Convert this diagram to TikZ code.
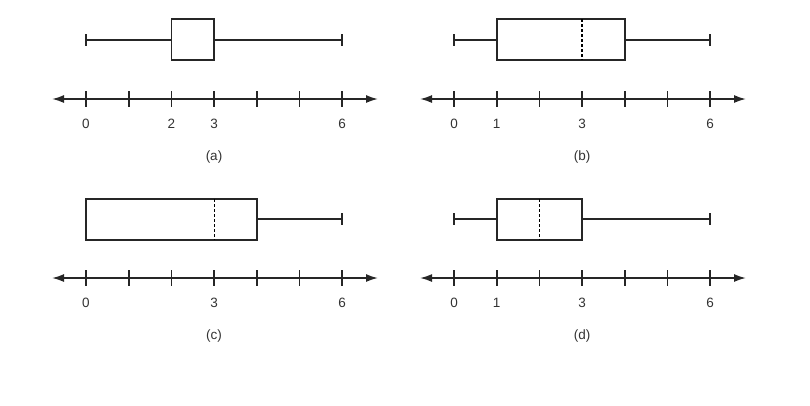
\documentclass[tikz,border=0pt]{standalone}
\usepackage{fontspec}
\setmainfont{Liberation Sans}
\usetikzlibrary{arrows.meta}
\tikzset{ln/.style={line width=1.7pt,draw=black!85},
  axisline/.style={ln,{Latex[length=12pt,width=8pt]}-{Latex[length=12pt,width=8pt]}},
  bx/.style={ln,fill=white},
  med/.style={line width=1.2pt,dashed,dash pattern=on 3pt off 2pt},
  num/.style={font=\fontsize{13.5pt}{15pt}\selectfont,text=black!80},
  paneltitle/.style={font=\fontsize{13.5pt}{15pt}\selectfont,text=black!80}}
\begin{document}
\begin{tikzpicture}[x=1pt,y=-1pt]
\useasboundingbox (0,0) rectangle (810,405);
% panel a
\coordinate (aL) at (52,99); \coordinate (aR) at (378,99);
\draw[axisline] (aL) -- (aR);
\foreach \i in {0,...,6} \draw[ln] (86+42.7*\i,91) -- (86+42.7*\i,107);
\foreach \i/\t in {0/0,2/2,3/3,6/6} \node[num] (an\i) at (86+42.7*\i,124) {\t};
\draw[ln] (86,34) -- (86,46); \draw[ln] (342,34) -- (342,46);
\draw[ln] (86,40) -- (342,40);
\draw[bx] (171.4,19) rectangle (214.1,60);
\node[paneltitle] (ca) at (214,157) {(a)};
% panel b
\draw[axisline] (420,99) -- (746,99);
\foreach \i in {0,...,6} \draw[ln] (454+42.7*\i,91) -- (454+42.7*\i,107);
\foreach \i/\t in {0/0,1/1,3/3,6/6} \node[num] (bn\i) at (454+42.7*\i,124) {\t};
\draw[ln] (454,34) -- (454,46); \draw[ln] (710,34) -- (710,46);
\draw[ln] (454,40) -- (710,40);
\draw[bx] (496.7,19) rectangle (624.8,60);
\draw[med] (582,19) -- (582,60);
\node[paneltitle] (cb) at (582,157) {(b)};
% panel c
\draw[axisline] (52,278) -- (378,278);
\foreach \i in {0,...,6} \draw[ln] (86+42.7*\i,270) -- (86+42.7*\i,286);
\foreach \i/\t in {0/0,3/3,6/6} \node[num] (cn\i) at (86+42.7*\i,303) {\t};
\draw[ln] (342,213) -- (342,225);
\draw[ln] (256.8,219) -- (342,219);
\draw[bx] (86,199) rectangle (256.8,240);
\draw[med] (214.1,199) -- (214.1,240);
\node[paneltitle] (cc) at (214,336) {(c)};
% panel d
\draw[axisline] (420,278) -- (746,278);
\foreach \i in {0,...,6} \draw[ln] (454+42.7*\i,270) -- (454+42.7*\i,286);
\foreach \i/\t in {0/0,1/1,3/3,6/6} \node[num] (dn\i) at (454+42.7*\i,303) {\t};
\draw[ln] (454,213) -- (454,225); \draw[ln] (710,213) -- (710,225);
\draw[ln] (454,219) -- (710,219);
\draw[bx] (496.7,199) rectangle (582.1,240);
\draw[med] (539.4,199) -- (539.4,240);
\node[paneltitle] (cd) at (582,336) {(d)};
\end{tikzpicture}
\end{document}
